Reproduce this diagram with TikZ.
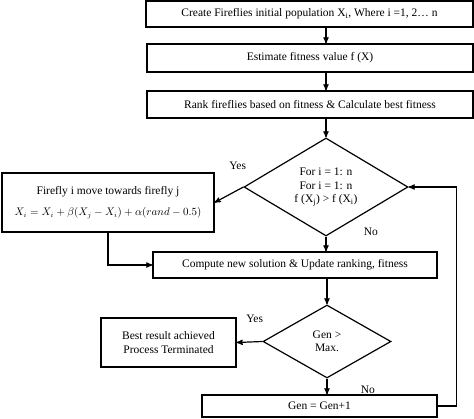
\documentclass[tikz,border=0pt]{standalone}
\usepackage{fontspec}
\setmainfont{Liberation Serif}
\usepackage{amsmath}
\usepackage{tikz}
\usetikzlibrary{calc}
\usetikzlibrary{arrows}
\usetikzlibrary{shapes.geometric}
\tikzset{box/.style={draw, line width=1.2pt, inner sep=0, align=center}}
\tikzset{dec/.style={draw, line width=1.2pt, diamond, inner sep=0, align=center}}
\tikzset{flow/.style={line width=1.2pt, ->, >=stealth'}}

\begin{document}
\begin{tikzpicture} [x=1pt, y=-1pt, font=\fontsize{11.5}{13.5}\selectfont]
\useasboundingbox (0,0) rectangle (474,418);
\node[box, minimum width=327, minimum height=26] (init) at (309.5,14) {Create Fireflies initial population X\textsubscript{i}, Where i =1, 2\ldots\ n};
\node[box, minimum width=326, minimum height=28] (fit) at (310,58) {Estimate fitness value f (X)};
\node[box, minimum width=326, minimum height=27] (rank) at (310,104.5) {Rank fireflies based on fitness \& Calculate best fitness};
\node[dec, minimum width=164, minimum height=98, aspect=1.67] (cmp) at (326,187) {For i = 1: n\\For i = 1: n\\f (X\textsubscript{j}) > f (X\textsubscript{i})};
\node[box, minimum width=212, minimum height=59] (move) at (108,202.5) {Firefly i move towards firefly j\\[8pt] \fontsize{10.5}{12.5}\selectfont $X_i = X_i + \beta(X_j - X_i) + \alpha(rand - 0.5)$};
\node[box, minimum width=284, minimum height=26] (upd) at (295,265) {Compute new solution \& Update ranking, fitness};
\node[dec, minimum width=128, minimum height=73, aspect=1.75] (gen) at (327,341.5) {Gen >\\Max.};
\node[box, minimum width=135, minimum height=49] (best) at (168.5,342.5) {Best result achieved\\Process Terminated};
\node[box, minimum width=235, minimum height=22] (inc) at (319.5,406) {Gen = Gen+1};

\draw[flow] (cmp.north |- init.south) -- (cmp.north |- fit.north);
\draw[flow] (cmp.north |- fit.south) -- (cmp.north |- rank.north);
\draw[flow] (cmp.north |- rank.south) -- (cmp.north);
\draw[flow] (cmp.west) -- (move.east) node[pos=.2, above=17pt] {Yes};
\draw[flow] (move.south) |- (upd.west);
\draw[flow] (cmp.south) -- (cmp.south |- upd.north) node[right=34pt, pos=-.3] {No};
\draw[flow] (gen.north |- upd.south) -- (gen.north);
\draw[flow] (gen.west) -- (best.east) node[pos=.3, above=15pt] {Yes};
\draw[flow] (gen.south) -- (gen.south |- inc.north) node[right=30pt, pos=.72] {No};
\draw[flow] (inc.east) -- ++(19,0) |- (cmp.east);
\end{tikzpicture}
\end{document}
